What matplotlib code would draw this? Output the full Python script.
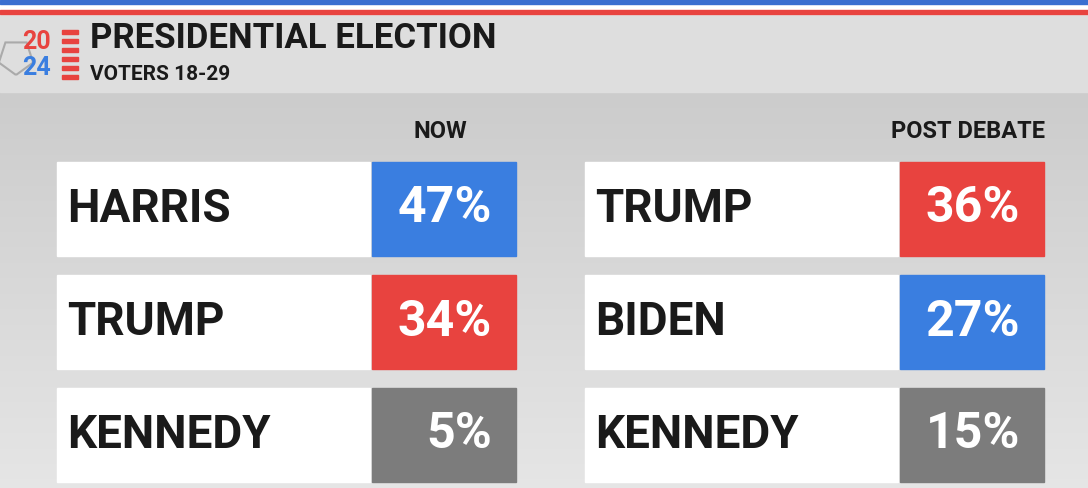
import matplotlib.pyplot as plt
from matplotlib.patches import Rectangle, RegularPolygon
import numpy as np

# data
now_names = ["HARRIS", "TRUMP", "KENNEDY"]
now_values = [47, 34, 5]
now_colors = ["#3a7ee0", "#e8433f", "#7c7c7c"]
post_names = ["TRUMP", "BIDEN", "KENNEDY"]
post_values = [36, 27, 15]
post_colors = ["#e8433f", "#3a7ee0", "#7c7c7c"]

FONT = ["Liberation Sans Narrow", "Roboto", "DejaVu Sans"]

fig = plt.figure(figsize=(10.88, 4.88), dpi=100)
ax = fig.add_axes([0, 0, 1, 1])
ax.set_xlim(0, 1088)
ax.set_ylim(488, 0)
ax.axis("off")

# background gradient
grad = np.linspace(0.80, 0.90, 256).reshape(-1, 1)
ax.imshow(np.dstack([grad, grad, grad]), extent=(0, 1088, 488, 92), aspect="auto", zorder=0)
ax.add_patch(Rectangle((0, 14), 1088, 78, color="#dedede", zorder=1))
ax.add_patch(Rectangle((0, 0), 1088, 14, color="white", zorder=1))
ax.add_patch(Rectangle((0, 0), 1088, 4, color="#3a6fd0", zorder=2))
ax.add_patch(Rectangle((0, 10), 1088, 4, color="#e8433f", zorder=2))

# logo
ax.add_patch(RegularPolygon((16, 57), 5, radius=18, fill=False, ec="#aaaaaa", lw=1.5, zorder=3))
ax.text(22, 42, "20", color="#e8433f", fontsize=18, fontweight="bold", family=FONT, va="center", zorder=4)
ax.text(22, 68, "24", color="#3a7ee0", fontsize=18, fontweight="bold", family=FONT, va="center", zorder=4)
for k in range(6):
    ax.add_patch(Rectangle((62, 30 + k * 9), 16, 4, color="#e8433f", zorder=3))

ax.text(90, 38, "PRESIDENTIAL ELECTION", fontsize=25, fontweight="bold", family=FONT,
        color="#1a1a1a", va="center", zorder=4)
ax.text(90, 75, "VOTERS 18-29", fontsize=15, fontweight="bold", family=FONT,
        color="#1a1a1a", va="center", zorder=4)

row_tops = [162, 275, 388]
row_h = 94


def panel(x0, header, names, values, colors):
    ax.text(x0 + 383, 131, header, fontsize=17, fontweight="bold", family=FONT,
            color="#1a1a1a", ha="center", va="center", zorder=4)
    for y, name, val, col in zip(row_tops, names, values, colors):
        ax.add_patch(Rectangle((x0, y), 313, row_h, color="white", zorder=3))
        ax.add_patch(Rectangle((x0 + 315, y), 144, row_h, color=col, zorder=3))
        ax.text(x0 + 10, y + row_h / 2, name, fontsize=33, fontweight="bold", family=FONT,
                color="#1a1a1a", va="center", zorder=4)
        ax.text(x0 + 435, y + row_h / 2, f"{val}%", fontsize=36, fontweight="bold", family=FONT,
                color="white", ha="right", va="center", zorder=4)


panel(57, "NOW", now_names, now_values, now_colors)
panel(585, "POST DEBATE", post_names, post_values, post_colors)

fig.savefig("out.png", dpi=100)
